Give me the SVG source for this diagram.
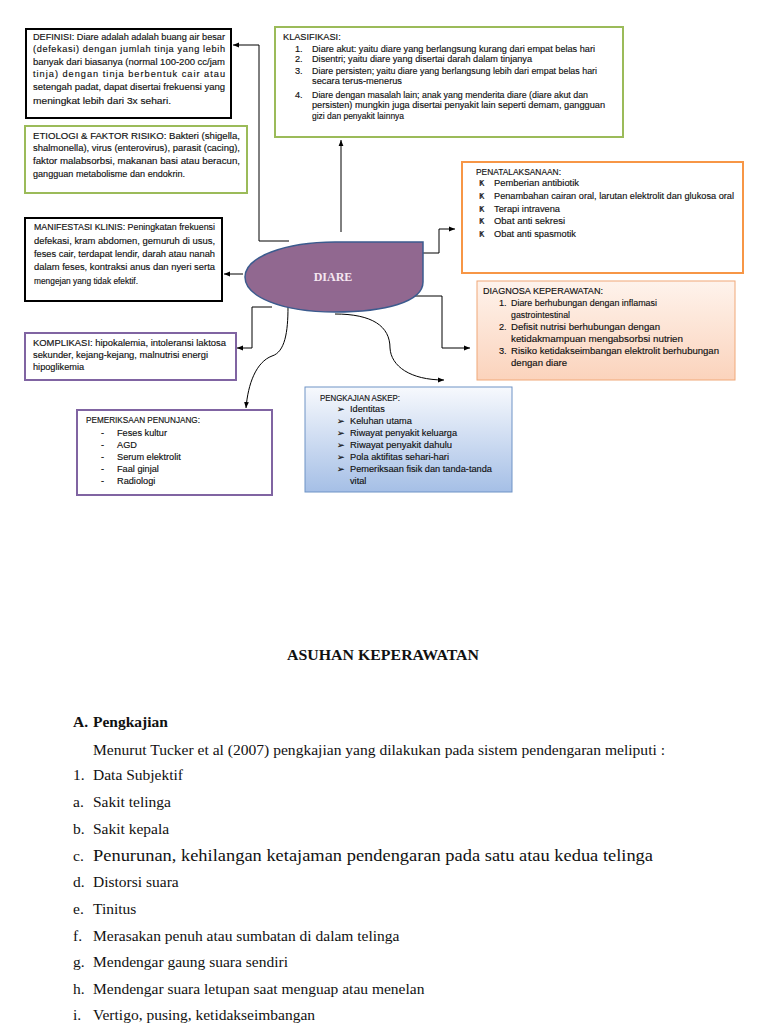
<svg xmlns="http://www.w3.org/2000/svg" width="768" height="1024" viewBox="0 0 768 1024">
<style>
.t{font-family:"Liberation Sans",Arial,sans-serif;font-size:9.2px;fill:#111;stroke:#111;stroke-width:0.15}
.s{font-family:"Liberation Serif","Times New Roman",serif;font-size:15.5px;fill:#111}
.c{fill:none;stroke:#000;stroke-width:1}
</style>
<defs>
<marker id="ah" viewBox="0 0 10 10" refX="10" refY="5" markerWidth="6" markerHeight="6" orient="auto"><path d="M0,1 L10,5 L0,9 z" fill="#000"/></marker>
<linearGradient id="gpeach" x1="0" y1="0" x2="0" y2="1"><stop offset="0" stop-color="#fef3ec"/><stop offset="1" stop-color="#fbd3bc"/></linearGradient>
<linearGradient id="gblue" x1="0" y1="0" x2="0" y2="1"><stop offset="0" stop-color="#f7f9fd"/><stop offset="1" stop-color="#a5bfe6"/></linearGradient>
</defs>
<rect width="768" height="1024" fill="#fff"/>

<g id="connectors">
<path class="c" d="M289,241 H259 V45 H233" marker-end="url(#ah)"/>
<path class="c" d="M341,232 V140" marker-end="url(#ah)"/>
<path class="c" d="M423,253 H439 V229 H455" marker-end="url(#ah)"/>
<path class="c" d="M414,296 H442 V348 H470" marker-end="url(#ah)"/>
<path class="c" d="M335,314 C372,314 390,326 390,348 C391,366 410,380 444,380" marker-end="url(#ah)"/>
<path class="c" d="M243,274 H224" marker-end="url(#ah)"/>
<path class="c" d="M272,307 H252 V348 H237" marker-end="url(#ah)"/>
<path class="c" d="M288,307 C288,332 285,352 272,356 C256,362 248,384 246,408" marker-end="url(#ah)"/>
</g>

<g id="diare">
<path d="M423,242 V282 C423,302 385,312 335,312 C280,312 245,296 245,277 C245,257 285,242 335,242 Z" fill="#916890" stroke="#3b5b8e" stroke-width="1.5"/>
<text x="333" y="281" text-anchor="middle" style="font-family:'Liberation Serif',serif;font-size:12px;font-weight:bold;fill:#f5e6f0">DIARE</text>
</g>

<g id="definisi">
<rect x="26" y="29" width="205" height="89" fill="#fff" stroke="#000" stroke-width="2"/>
<text class="t" x="33" y="40" textLength="192" lengthAdjust="spacingAndGlyphs">DEFINISI: Diare adalah adalah buang air besar</text>
<text class="t" x="33" y="52" textLength="192" lengthAdjust="spacing">(defekasi) dengan jumlah tinja yang lebih</text>
<text class="t" x="33" y="65" textLength="192" lengthAdjust="spacingAndGlyphs">banyak dari biasanya (normal 100-200 cc/jam</text>
<text class="t" x="33" y="77" textLength="192" lengthAdjust="spacing">tinja) dengan tinja berbentuk cair atau</text>
<text class="t" x="33" y="90" textLength="192" lengthAdjust="spacingAndGlyphs">setengah padat, dapat disertai frekuensi yang</text>
<text class="t" x="33" y="104" textLength="138" lengthAdjust="spacingAndGlyphs">meningkat lebih dari 3x sehari.</text>
</g>

<g id="etiologi">
<rect x="25" y="126" width="222" height="67" fill="#fff" stroke="#9bbb59" stroke-width="2"/>
<text class="t" x="33" y="139" textLength="207" lengthAdjust="spacingAndGlyphs">ETIOLOGI &amp; FAKTOR RISIKO: Bakteri (shigella,</text>
<text class="t" x="33" y="151" textLength="207" lengthAdjust="spacingAndGlyphs">shalmonella), virus (enterovirus), parasit (cacing),</text>
<text class="t" x="33" y="164" textLength="207" lengthAdjust="spacingAndGlyphs">faktor malabsorbsi, makanan basi atau beracun,</text>
<text class="t" x="33" y="177" textLength="152" lengthAdjust="spacingAndGlyphs">gangguan metabolisme dan endokrin.</text>
</g>

<g id="manifestasi">
<rect x="25" y="218" width="197" height="83" fill="#fff" stroke="#000" stroke-width="2"/>
<text class="t" x="34" y="230" textLength="181" lengthAdjust="spacingAndGlyphs">MANIFESTASI KLINIS: Peningkatan frekuensi</text>
<text class="t" x="34" y="244" textLength="181" lengthAdjust="spacingAndGlyphs">defekasi, kram abdomen, gemuruh di usus,</text>
<text class="t" x="34" y="257" textLength="181" lengthAdjust="spacingAndGlyphs">feses cair, terdapat lendir, darah atau nanah</text>
<text class="t" x="34" y="270" textLength="181" lengthAdjust="spacingAndGlyphs">dalam feses, kontraksi anus dan nyeri serta</text>
<text class="t" x="34" y="284" textLength="104" lengthAdjust="spacingAndGlyphs">mengejan yang tidak efektif.</text>
</g>

<g id="komplikasi">
<rect x="25" y="333" width="211" height="47" fill="#fff" stroke="#8064a2" stroke-width="2"/>
<text class="t" x="33" y="346" textLength="193" lengthAdjust="spacingAndGlyphs">KOMPLIKASI: hipokalemia, intoleransi laktosa</text>
<text class="t" x="33" y="358" textLength="175" lengthAdjust="spacingAndGlyphs">sekunder, kejang-kejang, malnutrisi energi</text>
<text class="t" x="33" y="370">hipoglikemia</text>
</g>

<g id="pemeriksaan">
<rect x="77" y="410" width="195" height="85" fill="#fff" stroke="#8064a2" stroke-width="2"/>
<text class="t" x="86" y="423" textLength="114" lengthAdjust="spacingAndGlyphs">PEMERIKSAAN PENUNJANG:</text>
<text class="t" x="101" y="436">-</text><text class="t" x="117" y="436">Feses kultur</text>
<text class="t" x="101" y="448">-</text><text class="t" x="117" y="448">AGD</text>
<text class="t" x="101" y="460">-</text><text class="t" x="117" y="460">Serum elektrolit</text>
<text class="t" x="101" y="472">-</text><text class="t" x="117" y="472">Faal ginjal</text>
<text class="t" x="101" y="484">-</text><text class="t" x="117" y="484">Radiologi</text>
</g>

<g id="klasifikasi">
<rect x="275" y="27" width="348" height="110" fill="#fff" stroke="#9bbb59" stroke-width="2"/>
<text class="t" x="283" y="40">KLASIFIKASI:</text>
<text class="t" x="295" y="52">1.</text><text class="t" x="312" y="52" textLength="283" lengthAdjust="spacingAndGlyphs">Diare akut: yaitu diare yang berlangsung kurang dari empat belas hari</text>
<text class="t" x="295" y="62">2.</text><text class="t" x="312" y="62" textLength="220" lengthAdjust="spacingAndGlyphs">Disentri; yaitu diare yang disertai darah dalam tinjanya</text>
<text class="t" x="295" y="74">3.</text><text class="t" x="312" y="74" textLength="285" lengthAdjust="spacingAndGlyphs">Diare persisten; yaitu diare yang berlangsung lebih dari empat belas hari</text>
<text class="t" x="312" y="84" textLength="90" lengthAdjust="spacingAndGlyphs">secara terus-menerus</text>
<text class="t" x="295" y="98">4.</text><text class="t" x="312" y="98" textLength="276" lengthAdjust="spacingAndGlyphs">Diare dengan masalah lain; anak yang menderita diare (diare akut dan</text>
<text class="t" x="312" y="108" textLength="293" lengthAdjust="spacingAndGlyphs">persisten) mungkin juga disertai penyakit lain seperti demam, gangguan</text>
<text class="t" x="312" y="119" textLength="92" lengthAdjust="spacingAndGlyphs">gizi dan penyakit lainnya</text>
</g>

<g id="penatalaksanaan">
<rect x="462" y="162" width="281" height="111" fill="#fff" stroke="#f79646" stroke-width="2"/>
<text class="t" x="476" y="175" textLength="85" lengthAdjust="spacingAndGlyphs">PENATALAKSANAAN:</text>
<text class="t" x="479" y="186">Ҝ</text><text class="t" x="494" y="186" textLength="85" lengthAdjust="spacingAndGlyphs">Pemberian antibiotik</text>
<text class="t" x="479" y="199">Ҝ</text><text class="t" x="494" y="199" textLength="240" lengthAdjust="spacingAndGlyphs">Penambahan cairan oral, larutan elektrolit dan glukosa oral</text>
<text class="t" x="479" y="212">Ҝ</text><text class="t" x="494" y="212" textLength="66" lengthAdjust="spacingAndGlyphs">Terapi intravena</text>
<text class="t" x="479" y="224">Ҝ</text><text class="t" x="494" y="224" textLength="71" lengthAdjust="spacingAndGlyphs">Obat anti sekresi</text>
<text class="t" x="479" y="237">Ҝ</text><text class="t" x="494" y="237" textLength="82" lengthAdjust="spacingAndGlyphs">Obat anti spasmotik</text>
</g>

<g id="diagnosa">
<rect x="477" y="281" width="258" height="99" fill="url(#gpeach)" stroke="#f0a878" stroke-width="1"/>
<text class="t" x="483" y="294" textLength="120" lengthAdjust="spacingAndGlyphs">DIAGNOSA KEPERAWATAN:</text>
<text class="t" x="499" y="306">1.</text><text class="t" x="511" y="306" textLength="146" lengthAdjust="spacingAndGlyphs">Diare berhubungan dengan inflamasi</text>
<text class="t" x="511" y="318" textLength="59" lengthAdjust="spacingAndGlyphs">gastrointestinal</text>
<text class="t" x="499" y="330">2.</text><text class="t" x="511" y="330" textLength="149" lengthAdjust="spacingAndGlyphs">Defisit nutrisi berhubungan dengan</text>
<text class="t" x="511" y="342" textLength="172" lengthAdjust="spacingAndGlyphs">ketidakmampuan mengabsorbsi nutrien</text>
<text class="t" x="499" y="354">3.</text><text class="t" x="511" y="354" textLength="208" lengthAdjust="spacingAndGlyphs">Risiko ketidakseimbangan elektrolit berhubungan</text>
<text class="t" x="511" y="366" textLength="56" lengthAdjust="spacingAndGlyphs">dengan diare</text>
</g>

<g id="pengkajian-askep">
<rect x="305" y="387" width="207" height="105" fill="url(#gblue)" stroke="#6f93c6" stroke-width="1"/>
<text class="t" x="320" y="401" textLength="80" lengthAdjust="spacingAndGlyphs">PENGKAJIAN ASKEP:</text>
<text class="t" x="337" y="412">➢</text><text class="t" x="350" y="412">Identitas</text>
<text class="t" x="337" y="424">➢</text><text class="t" x="350" y="424">Keluhan utama</text>
<text class="t" x="337" y="436">➢</text><text class="t" x="350" y="436" textLength="107" lengthAdjust="spacingAndGlyphs">Riwayat penyakit keluarga</text>
<text class="t" x="337" y="448">➢</text><text class="t" x="350" y="448" textLength="102" lengthAdjust="spacingAndGlyphs">Riwayat penyakit dahulu</text>
<text class="t" x="337" y="460">➢</text><text class="t" x="350" y="460" textLength="99" lengthAdjust="spacingAndGlyphs">Pola aktifitas sehari-hari</text>
<text class="t" x="337" y="472">➢</text><text class="t" x="350" y="472" textLength="142" lengthAdjust="spacingAndGlyphs">Pemeriksaan fisik dan tanda-tanda</text>
<text class="t" x="350" y="484">vital</text>
</g>

<g id="asuhan-text">
<text class="s" x="383" y="660" text-anchor="middle" style="font-weight:bold;font-size:14.5px" textLength="192" lengthAdjust="spacingAndGlyphs">ASUHAN KEPERAWATAN</text>
<text class="s" x="73" y="727" style="font-weight:bold">A.</text>
<text class="s" x="93" y="727" style="font-weight:bold">Pengkajian</text>
<text class="s" x="93" y="755" textLength="572" lengthAdjust="spacingAndGlyphs">Menurut Tucker et al (2007) pengkajian yang dilakukan pada sistem pendengaran meliputi :</text>
<text class="s" x="73" y="780">1.</text><text class="s" x="93" y="780">Data Subjektif</text>
<text class="s" x="73" y="807">a.</text><text class="s" x="93" y="807">Sakit telinga</text>
<text class="s" x="73" y="834">b.</text><text class="s" x="93" y="834">Sakit kepala</text>
<text class="s" x="73" y="861">c.</text><text class="s" x="93" y="861" style="font-size:16.5px" textLength="560" lengthAdjust="spacingAndGlyphs">Penurunan, kehilangan ketajaman pendengaran pada satu atau kedua telinga</text>
<text class="s" x="73" y="887">d.</text><text class="s" x="93" y="887">Distorsi suara</text>
<text class="s" x="73" y="914">e.</text><text class="s" x="93" y="914">Tinitus</text>
<text class="s" x="73" y="941">f.</text><text class="s" x="93" y="941">Merasakan penuh atau sumbatan di dalam telinga</text>
<text class="s" x="73" y="967">g.</text><text class="s" x="93" y="967">Mendengar gaung suara sendiri</text>
<text class="s" x="73" y="994">h.</text><text class="s" x="93" y="994">Mendengar suara letupan saat menguap atau menelan</text>
<text class="s" x="73" y="1020">i.</text><text class="s" x="93" y="1020">Vertigo, pusing, ketidakseimbangan</text>
</g>
</svg>
